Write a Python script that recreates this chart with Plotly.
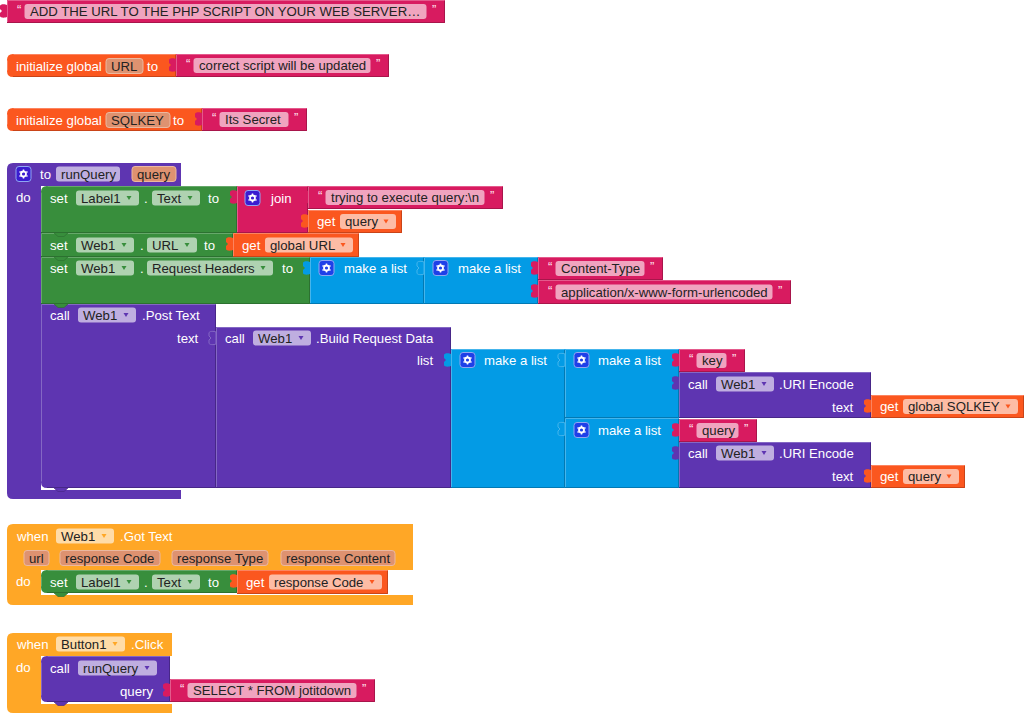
import plotly.graph_objects as go

# Block texts
string_texts = [
    "ADD THE URL TO THE PHP SCRIPT ON YOUR WEB SERVER…", "correct script will be updated", "Its Secret ",
    "trying to execute query:\\n", "Content-Type", "application/x-www-form-urlencoded",
    "key", "query", "SELECT * FROM jotitdown",
]
getter_texts = ["query", "global URL", "global SQLKEY", "query", "response Code"]
dropdown_texts = [
    "Label1", "Text", "Web1", "URL", "Web1", "Request Headers", "Web1", "Web1", "Web1", "Web1",
    "Web1", "Label1", "Text", "Button1", "runQuery",
]
param_texts = ["URL", "SQLKEY", "query", "url", "response Code", "response Type", "response Content"]
word_texts = [
    "initialize global", "to", "initialize global", "to", "to", "do", "set", ".", "to", "join",
    "set", ".", "to", "set", ".", "to", "make a list", "make a list", "call", ".Post Text", "text",
    "call", ".Build Request Data", "list", "make a list", "make a list", "make a list",
    "call", ".URI Encode", "text", "call", ".URI Encode", "text",
    "when", ".Got Text", "do", "set", ".", "to", "when", ".Click", "do", "call", "query",
]

# Colours
CRIMSON = "#D81B60"
ORANGE = "#FB571F"
GREEN = "#388E3C"
PURPLE = "#5E35B1"
BLUE = "#039BE5"
AMBER = "#FFA726"
PILLS = {CRIMSON: "#F0A4BF", ORANGE: "#FDBCA5", GREEN: "#AFD2B1", PURPLE: "#BFAEE0", AMBER: "#FFDCA8"}
EDGES = {CRIMSON: "#A8154B", ORANGE: "#C94418", GREEN: "#2C7130", PURPLE: "#472788", BLUE: "#0279B3", AMBER: "#CC851E"}
LIGHT = {CRIMSON: "#E45A8C", ORANGE: "#FC8460", GREEN: "#66A86A", PURPLE: "#8468C4", BLUE: "#45B5EC", AMBER: "#FFCB80"}

FONT = "Liberation Sans"
SIZE = 13.2

# Layout of the blocks, in page pixels
string_boxes = [
    (7, 0, 445, 23), (176, 54, 389, 77), (202, 108, 307, 131), (308, 186, 503, 209), (538, 257, 663, 280),
    (538, 280, 791, 304), (679, 349, 745, 372), (679, 419, 757, 442), (170, 679, 375, 702),
]
getter_boxes = [(308, 210, 402, 233), (233, 233, 359, 257), (871, 395, 1024, 418), (871, 465, 965, 488), (237, 570, 388, 594)]
dropdown_boxes = [
    (76, 139, 198, GREEN), (152, 200, 198, GREEN), (76, 134, 245, GREEN), (147, 197, 245, GREEN),
    (76, 134, 268, GREEN), (147, 273, 268, GREEN), (78, 136, 315, PURPLE), (253, 311, 338, PURPLE),
    (716, 774, 384, PURPLE), (716, 774, 453, PURPLE), (56, 114, 536, AMBER), (76, 139, 582, GREEN),
    (152, 200, 582, GREEN), (56, 125, 644, AMBER), (78, 157, 668, PURPLE),
]
param_boxes = [(106, 143, 66), (106, 170, 120), (132, 176, 174), (24, 49, 558), (60, 160, 558), (172, 268, 558), (281, 395, 558)]
word_positions = [
    (16, 66), (147, 66), (16, 120), (173, 120), (40, 174), (16, 197), (50, 198), (144, 198), (208, 198), (270, 198),
    (50, 245), (140, 245), (204, 245), (50, 268), (140, 268), (282, 268), (344, 268), (458, 268), (50, 315), (142, 315), (177, 338),
    (225, 338), (316, 338), (417, 360), (484, 360), (598, 360), (598, 430),
    (688, 384), (779, 384), (832, 407), (688, 453), (779, 453), (832, 476),
    (16, 536), (120, 536), (16, 581), (50, 582), (144, 582), (208, 582), (16, 644), (131, 644), (16, 667), (50, 668), (120, 691),
]

shapes = []
notes = []


def box_path(x0, y0, x1, y1, tl=0, bl=0):
    p = f"M {x0 + tl} {y0} L {x1} {y0} L {x1} {y1} L {x0 + bl} {y1} "
    if bl:
        p += f"Q {x0} {y1} {x0} {y1 - bl} "
    p += f"L {x0} {y0 + tl} "
    if tl:
        p += f"Q {x0} {y0} {x0 + tl} {y0} "
    return p + "Z"


def block(x0, y0, x1, y1, color, tl=0, bl=0, edges=True):
    shapes.append(dict(type="path", path=box_path(x0, y0, x1, y1, tl, bl), fillcolor=color, line_width=0))
    if edges:
        shapes.append(dict(type="path", path=f"M {x0 + 0.5 + tl} {y0 + 0.5} L {x1 - 0.5} {y0 + 0.5} M {x0 + 0.5} {y0 + tl + 0.5} L {x0 + 0.5} {y1 - 0.5 - bl}",
                           line=dict(color=LIGHT[color], width=1)))
        shapes.append(dict(type="path", path=f"M {x0 + bl} {y1 - 0.5} L {x1 - 0.5} {y1 - 0.5} L {x1 - 0.5} {y0 + 1}",
                           line=dict(color=EDGES[color], width=1)))


def tab(x, y, color, outline=False):
    p = f"M {x} {y + 5} C {x - 2} {y + 4} {x - 7} {y + 4} {x - 7} {y + 6} L {x - 7} {y + 9} L {x - 5} {y + 11} L {x - 7} {y + 13} L {x - 7} {y + 16} C {x - 7} {y + 18} {x - 2} {y + 18} {x} {y + 17} Z"
    shapes.append(dict(type="path", path=p, fillcolor=color, line=dict(color=LIGHT[color] if outline else color, width=1 if outline else 0)))


def notch(x, y, color):
    shapes.append(dict(type="path", path=f"M {x} {y} L {x + 4} {y + 3.5} L {x + 10} {y + 3.5} L {x + 14} {y} Z", fillcolor=color, line_width=0))
    shapes.append(dict(type="path", path=f"M {x} {y} L {x + 4} {y + 3.5} L {x + 10} {y + 3.5} L {x + 14} {y}", line=dict(color=EDGES[color], width=0.7)))


def text(x, y, s, color="white", size=SIZE, anchor="left"):
    notes.append(dict(x=x, y=y, text=s, showarrow=False, xanchor=anchor, yanchor="middle", borderpad=0, borderwidth=0,
                      font=dict(family=FONT, size=size, color=color)))


def pill(x0, x1, yc, fill, line=None):
    r = 3
    y0, y1 = yc - 7.5, yc + 7.5
    shapes.append(dict(type="path", fillcolor=fill, line=dict(color=line or fill, width=1 if line else 0),
                       path=f"M {x0 + r} {y0} L {x1 - r} {y0} Q {x1} {y0} {x1} {y0 + r} L {x1} {y1 - r} Q {x1} {y1} {x1 - r} {y1} L {x0 + r} {y1} Q {x0} {y1} {x0} {y1 - r} L {x0} {y0 + r} Q {x0} {y0} {x0 + r} {y0} Z"))


def triangle(x, yc, color):
    shapes.append(dict(type="path", path=f"M {x - 2.5} {yc - 2} L {x + 2.5} {yc - 2} L {x} {yc + 2} Z", fillcolor=color, line_width=0))


def gear_icon(x, yc, fill):
    # mutator button, x is the left edge
    pill(x, x + 15, yc, fill, line="#8FA6F2")
    cx = x + 7.5
    shapes.append(dict(type="circle", x0=cx - 2.5, x1=cx + 2.5, y0=yc - 2.5, y1=yc + 2.5, fillcolor="rgba(0,0,0,0)", line=dict(color="white", width=1.8)))
    shapes.append(dict(type="path", path=f"M {cx} {yc - 4.5} L {cx} {yc - 3} M {cx} {yc + 3} L {cx} {yc + 4.5} M {cx - 4} {yc - 2.3} L {cx - 2.8} {yc - 1.6} M {cx + 2.8} {yc + 1.6} L {cx + 4} {yc + 2.3} M {cx + 4} {yc - 2.3} L {cx + 2.8} {yc - 1.6} M {cx - 2.8} {yc + 1.6} L {cx - 4} {yc + 2.3}",
                       line=dict(color="white", width=1.5)))


# Hat blocks and containers, back to front
block(7, 54, 176, 77, ORANGE, tl=6, bl=6)
block(7, 108, 202, 131, ORANGE, tl=6, bl=6)

block(7, 163, 181, 186, PURPLE, tl=6, edges=False)
block(7, 186, 41, 490, PURPLE, edges=False)
block(7, 490, 181, 499, PURPLE, bl=6, edges=False)

block(7, 524, 413, 570, AMBER, tl=6, edges=False)
block(7, 570, 41, 595, AMBER, edges=False)
block(7, 595, 413, 605, AMBER, bl=6, edges=False)

block(7, 633, 172, 656, AMBER, tl=6, edges=False)
block(7, 656, 41, 704, AMBER, edges=False)
block(7, 704, 172, 713, AMBER, bl=6, edges=False)

# Statement and call blocks
block(41, 304, 216, 488, PURPLE, bl=6)
block(216, 327, 451, 488, PURPLE)
block(451, 349, 565, 488, BLUE)
block(565, 349, 679, 418, BLUE)
block(565, 418, 679, 488, BLUE)
block(679, 372, 871, 418, PURPLE)
block(679, 442, 871, 488, PURPLE)
block(41, 257, 310, 304, GREEN)
block(41, 233, 233, 257, GREEN)
block(41, 186, 237, 233, GREEN, tl=6)
block(237, 186, 308, 233, CRIMSON)
block(310, 257, 424, 304, BLUE)
block(424, 257, 538, 304, BLUE)
block(41, 570, 237, 593, GREEN, tl=6, bl=6)
block(41, 656, 170, 702, PURPLE, tl=6, bl=6)

for nx, ny, ncol in [(54, 233, GREEN), (54, 257, GREEN), (54, 304, GREEN), (54, 488, PURPLE), (54, 593, GREEN), (54, 702, PURPLE)]:
    notch(nx, ny, ncol)

# Plugs of blocks that sit next to a block of their own colour
for tx, ty, tcol in [(237, 186, CRIMSON), (310, 257, BLUE), (424, 257, BLUE), (451, 349, BLUE), (565, 349, BLUE), (565, 418, BLUE),
                     (216, 327, PURPLE), (679, 372, PURPLE), (679, 442, PURPLE)]:
    tab(tx, ty, tcol, outline=tcol in (PURPLE, BLUE) and tx not in (310, 451, 679))

# Text blocks
for s, (x0, y0, x1, y1) in zip(string_texts, string_boxes):
    block(x0, y0, x1, y1, CRIMSON)
    tab(x0, y0, CRIMSON)
    yc = (y0 + y1) / 2
    pill(x0 + 17.5, x1 - 18.5, yc, PILLS[CRIMSON])
    text(x0 + 22.5, yc, s, "#222222")
    text(x0 + 11.5, yc - 2, "“", "#FFE3EE", 13, "center")
    text(x1 - 11.5, yc - 2, "”", "#FFE3EE", 13, "center")

# Getter blocks
for s, (x0, y0, x1, y1) in zip(getter_texts, getter_boxes):
    block(x0, y0, x1, y1, ORANGE)
    tab(x0, y0, ORANGE)
    yc = (y0 + y1) / 2
    text(x0 + 9, yc, "get")
    pill(x0 + 32, x1 - 6, yc, PILLS[ORANGE])
    text(x0 + 37, yc, s, "#222222")
    triangle(x1 - 16, yc, ORANGE)

# Dropdown fields
for s, (x0, x1, yc, col) in zip(dropdown_texts, dropdown_boxes):
    pill(x0, x1, yc, PILLS[col])
    text(x0 + 5, yc, s, "#222222")
    triangle(x1 - 10, yc, col)

# Variable and parameter names
for s, (x0, x1, yc) in zip(param_texts, param_boxes):
    pill(x0, x1, yc, "#DE9270", line="#EBB8A0")
    text(x0 + 5, yc, s, "#222222")

pill(56, 120, 174, PILLS[PURPLE])
text(61, 174, "runQuery", "#222222")

# Mutator buttons
for gx, gy, gfill in [(16, 174, "#3A1CD0"), (245, 198, "#3A1CD0"), (319, 268, "#1E40E8"), (433, 268, "#1E40E8"),
                      (460, 360, "#1E40E8"), (574, 360, "#1E40E8"), (574, 430, "#1E40E8")]:
    gear_icon(gx, gy, gfill)

for s, (wx, wy) in zip(word_texts, word_positions):
    text(wx, wy, s)

fig = go.Figure()
fig.update_layout(
    width=1024,
    height=713,
    margin=dict(l=0, r=0, t=0, b=0),
    paper_bgcolor="white",
    plot_bgcolor="white",
    showlegend=False,
    xaxis=dict(range=[0, 1024], visible=False, fixedrange=True),
    yaxis=dict(range=[713, 0], visible=False, fixedrange=True),
    shapes=shapes,
    annotations=notes,
)

fig.write_html("out.html", config={"displayModeBar": False},
               post_script="document.body.style.margin='0';document.body.style.overflow='hidden';")
